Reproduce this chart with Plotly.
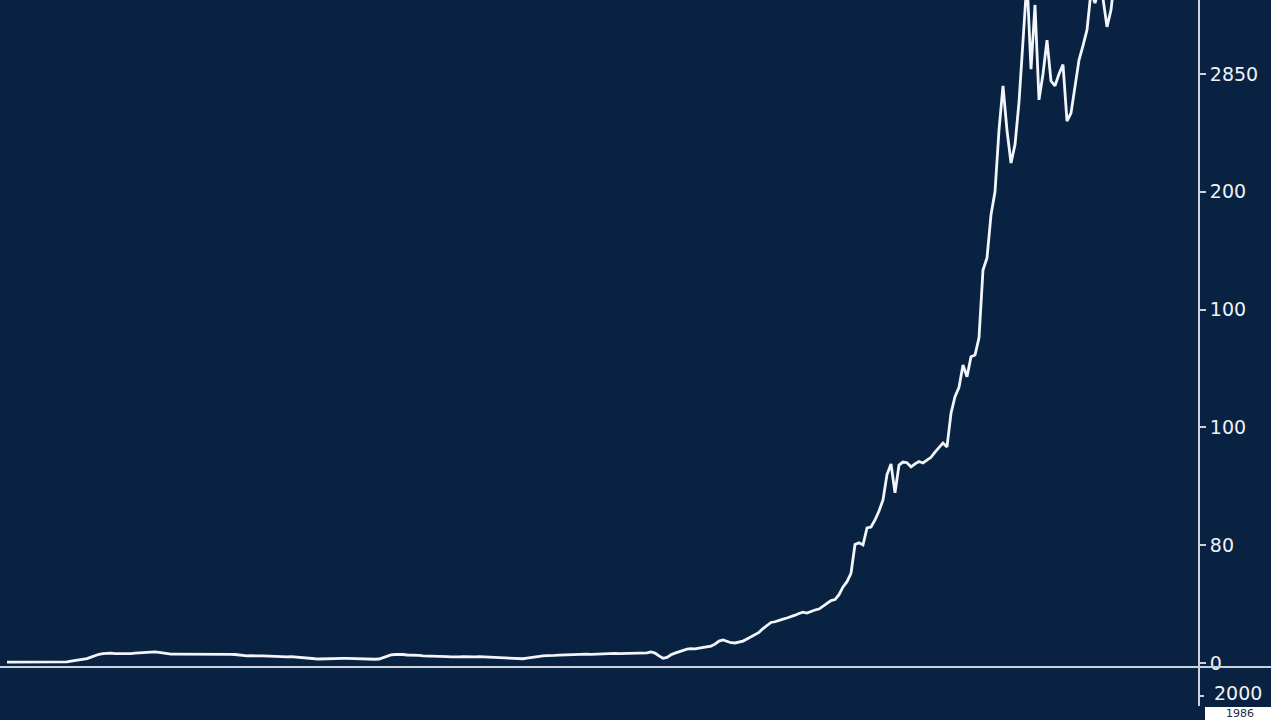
import plotly.graph_objects as go

# ---- data ----
values = [
    0.4, 0.4, 0.4, 0.4, 0.4, 0.4, 0.5, 0.5, 0.5, 0.5,
    0.5, 0.5, 0.5, 0.5, 0.5, 0.5, 0.8, 1.0, 1.2, 1.5,
    1.9, 2.5, 3.2, 3.7, 4.0, 4.2, 4.2, 4.0, 4.0, 3.9,
    3.8, 4.0, 4.2, 4.3, 4.5, 4.7, 4.8, 4.7, 4.5, 4.2,
    3.9, 3.8, 3.8, 3.8, 3.9, 3.9, 3.8, 3.9, 3.8, 3.9,
    4.0, 3.9, 3.8, 3.9, 4.0, 3.8, 3.7, 3.6, 3.3, 3.0,
    3.0, 3.1, 3.2, 3.0, 3.0, 2.9, 2.8, 2.8, 2.7, 2.6,
    2.6, 2.7, 2.5, 2.4, 2.3, 2.1, 1.9, 1.8, 1.7, 1.8,
    1.9, 2.0, 2.1, 2.1, 2.0, 2.0, 1.9, 1.8, 1.7, 1.6,
    1.6, 1.7, 1.6, 1.7, 2.3, 2.9, 3.4, 3.6, 3.7, 3.6,
    3.4, 3.4, 3.3, 3.2, 3.0, 3.0, 2.9, 2.8, 2.7, 2.8,
    2.7, 2.6, 2.5, 2.6, 2.7, 2.6, 2.5, 2.6, 2.7, 2.6,
    2.5, 2.6, 2.5, 2.4, 2.3, 2.1, 1.9, 1.7, 1.6, 1.8,
    2.1, 2.4, 2.7, 2.9, 3.0, 3.1, 3.0, 3.2, 3.3, 3.4,
    3.3, 3.5, 3.6, 3.5, 3.6, 3.8, 3.7, 3.8, 3.9, 4.0,
    3.9, 4.0, 4.1, 4.0, 4.0, 4.1, 4.0, 4.1, 4.2, 4.1,
    4.3, 4.7, 4.2, 3.0, 2.0, 2.4, 3.5, 4.2, 4.8, 5.3,
    5.9, 6.1, 6.0, 6.3, 6.5, 6.9, 7.2, 8.0, 9.3, 9.8,
    9.2, 8.6, 8.5, 8.9, 9.3, 10.2, 11.1, 12.0, 13.0, 14.6,
    16.0, 17.2, 17.5, 18.2, 18.6, 19.1, 19.6, 20.3, 21.0, 21.6,
    21.2, 21.9, 22.5, 22.9, 24.0, 25.3, 26.5, 26.9, 29.0, 32.3,
    34.5, 38.0, 50.3, 51.0, 50.1, 57.3, 57.7, 60.7, 64.5, 69.2,
    80.0, 84.5, 72.2, 84.0, 85.3, 85.0, 83.2, 84.5, 85.5, 84.9,
    86.0, 87.3, 89.5, 91.5, 93.4, 91.7, 106.0, 113.0, 117.0, 126.5,
    121.5, 130.0, 130.7, 138.0, 166.8, 171.9, 190.2, 200.0, 226.2, 245.0,
    226.0, 212.2, 220.0, 238.0, 261.5, 290.0, 252.0, 279.3, 239.0, 250.0,
    264.4, 247.0, 245.0, 250.0, 254.0, 230.0, 233.4, 245.0, 255.9, 262.0,
    268.7, 285.0, 280.1, 286.0, 282.0, 270.0, 277.2, 292.0,
]
periods = list(range(len(values)))

tick_values = [0, 50, 100, 150, 200, 250]
tick_labels = ["0", "80", "100", "100", "200", "2850"]
corner_labels = ["2000", "1986"]

# ---- styling ----
NAVY = "#0a2241"
LINE = "#f2f6fa"
AXIS = "#c9d2de"
W, H = 1280, 720
ML, MR, MT, MB = 0, 82, 0, 53
PW, PH = W - ML - MR, H - MT - MB


def px(x):
    return (x - ML) / PW


def py(y):
    return (H - MB - y) / PH


fig = go.Figure()
fig.add_trace(go.Scatter(
    x=periods, y=values, mode="lines",
    line=dict(color=LINE, width=2.8),
    hoverinfo="skip", showlegend=False,
))

shapes = [
    dict(type="rect", xref="paper", yref="paper", x0=px(0), x1=px(1271),
         y0=py(0), y1=py(720), fillcolor=NAVY, line=dict(width=0), layer="below"),
    dict(type="rect", xref="paper", yref="paper", x0=px(1205), x1=px(1280),
         y0=py(707), y1=py(720), fillcolor="#ffffff", line=dict(width=0), layer="below"),
    dict(type="line", xref="paper", yref="paper", x0=px(0), x1=px(1271),
         y0=py(667), y1=py(667), line=dict(color=AXIS, width=2)),
    dict(type="line", xref="paper", yref="paper", x0=px(1199), x1=px(1199),
         y0=py(0), y1=py(706), line=dict(color=AXIS, width=2)),
    dict(type="line", xref="paper", yref="paper", x0=px(1199), x1=px(1204),
         y0=py(696), y1=py(696), line=dict(color=AXIS, width=2)),
]

annotations = [
    dict(text=corner_labels[0], xref="paper", yref="paper", x=px(1238), y=py(693),
         xanchor="center", yanchor="middle", showarrow=False,
         font=dict(family="DejaVu Sans", size=19, color="#eef2f7")),
    dict(text=corner_labels[1], xref="paper", yref="paper", x=px(1240), y=py(713.5),
         xanchor="center", yanchor="middle", showarrow=False,
         font=dict(family="DejaVu Sans", size=11, color="#1b2b44")),
]

fig.update_layout(
    width=W, height=H,
    margin=dict(l=ML, r=MR, t=MT, b=MB, pad=0),
    paper_bgcolor="#ffffff",
    plot_bgcolor=NAVY,
    shapes=shapes,
    annotations=annotations,
    xaxis=dict(range=[-1.75, 297.75], showgrid=False, zeroline=False,
               showticklabels=False, showline=False, ticks=""),
    yaxis=dict(range=[-1.7, 281.4], side="right", showgrid=False, zeroline=False,
               showline=False, ticks="outside", ticklen=7, tickwidth=1.5,
               tickcolor=AXIS, tickvals=tick_values, ticktext=tick_labels,
               tickfont=dict(family="DejaVu Sans", size=19, color="#eef2f7")),
)

fig.write_html(
    "out.html",
    config={"displayModeBar": False},
    post_script="document.body.style.margin='0';document.body.style.padding='0';"
                "document.documentElement.style.overflow='hidden';",
)
